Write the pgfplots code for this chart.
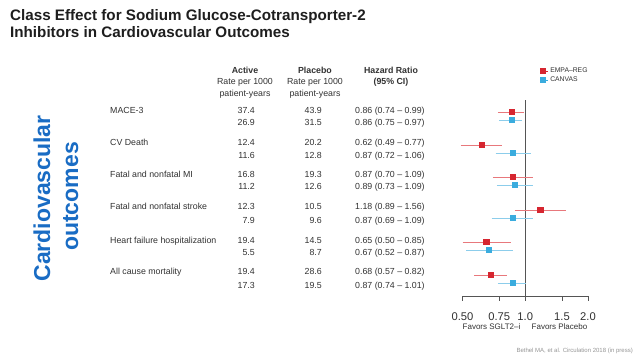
\documentclass[border=0pt]{standalone}
\usepackage{fontspec}
\setmainfont{Liberation Sans}
\usepackage{pgfplots}
\pgfplotsset{compat=1.18}
\definecolor{titlecol}{RGB}{30,30,30}
\definecolor{txt}{RGB}{50,50,50}
\definecolor{bluetxt}{RGB}{25,108,196}
\definecolor{empa}{RGB}{214,38,48}
\definecolor{empaL}{RGB}{232,120,124}
\definecolor{canv}{RGB}{58,172,222}
\definecolor{canvL}{RGB}{140,205,235}
\definecolor{axgray}{RGB}{85,85,85}
\definecolor{citegray}{RGB}{150,150,150}
\newcommand{\fs}[1]{\fontsize{#1}{#1}\selectfont}
\begin{document}
\begin{tikzpicture}[x=1pt,y=1pt]
\path[use as bounding box, fill=white] (0,0) rectangle (638,359);
% title
\node[anchor=base west, inner sep=0pt, font=\fs{15.2}\bfseries, text=titlecol] at (10,338) {Class Effect for Sodium Glucose-Cotransporter-2};
\node[anchor=base west, inner sep=0pt, font=\fs{15.2}\bfseries, text=titlecol] at (10,321) {Inhibitors in Cardiovascular Outcomes};
% side label
\node[anchor=base, rotate=90, inner sep=0pt, font=\fs{23}\bfseries, text=bluetxt] at (50,160.5) {Cardiovascular};
\node[anchor=base, rotate=90, inner sep=0pt, font=\fs{23}\bfseries, text=bluetxt] at (78,162.5) {outcomes};
% headers
\begin{scope}[every node/.style={anchor=base, inner sep=0pt, font=\fs{8.8}, text=txt}]
\node[font=\fs{8.8}\bfseries] at (245,285.7) {Active};
\node at (245,274) {Rate per 1000};
\node at (245,262.3) {patient-years};
\node[font=\fs{8.8}\bfseries] at (315,285.7) {Placebo};
\node at (315,274) {Rate per 1000};
\node at (315,262.3) {patient-years};
\node[font=\fs{8.8}\bfseries] at (391,285.7) {Hazard Ratio};
\node[font=\fs{8.8}\bfseries] at (391,274) {(95\% CI)};
\end{scope}
% row labels
\foreach \yy/\lab in {245/MACE-3, 213.3/CV Death, 181.3/Fatal and nonfatal MI, 149/Fatal and nonfatal stroke, 115.7/Heart failure hospitalization, 84/All cause mortality}
  \node[anchor=base west, inner sep=0pt, font=\fs{8.8}, text=txt] at (110,\yy) {\lab};
% table values
\foreach \yy/\a/\p/\hr in {
  245/37.4/43.9/0.86 (0.74 – 0.99),
  233/26.9/31.5/0.86 (0.75 – 0.97),
  213.3/12.4/20.2/0.62 (0.49 – 0.77),
  200.7/11.6/12.8/0.87 (0.72 – 1.06),
  181.3/16.8/19.3/0.87 (0.70 – 1.09),
  169/11.2/12.6/0.89 (0.73 – 1.09),
  149/12.3/10.5/1.18 (0.89 – 1.56),
  135.7/7.9/9.6/0.87 (0.69 – 1.09),
  115.7/19.4/14.5/0.65 (0.50 – 0.85),
  103/5.5/8.7/0.67 (0.52 – 0.87),
  84/19.4/28.6/0.68 (0.57 – 0.82),
  70.7/17.3/19.5/0.87 (0.74 – 1.01)}{
  \node[anchor=base east, inner sep=0pt, font=\fs{8.8}, text=txt] at (255,\yy) {\a};
  \node[anchor=base east, inner sep=0pt, font=\fs{8.8}, text=txt] at (322,\yy) {\p};
  \node[anchor=base west, inner sep=0pt, font=\fs{8.8}, text=txt] at (355,\yy) {\hr};
}
% forest plot
\begin{axis}[
  at={(462.5pt,63pt)}, anchor=south west, scale only axis,
  width=125.5pt, height=196pt,
  xmode=log, xmin=0.5, xmax=2, ymin=63, ymax=259,
  axis x line=bottom, axis y line=none,
  axis line style={axgray, line width=0.7pt, -},
  xtick={0.5,0.75,1,1.5,2}, xticklabels={0.50,0.75,1.0,1.5,2.0},
  minor xtick={},
  tick align=outside, major tick length=5pt,
  tick style={axgray, line width=0.7pt},
  xticklabel style={font=\fs{11.2}, text=txt, inner sep=0pt, anchor=north,
    text height=8pt, text depth=0pt, yshift=-11pt},
  clip=false, unbounded coords=jump,
  legend style={at={(axis description cs:0.615,1.175)}, anchor=north west,
    draw=none, fill=none, inner sep=0pt, row sep=-1.5pt,
    font=\fs{6.8}, text=txt},
  legend cell align=left,
  legend image code/.code={\draw[#1] plot coordinates {(2.5pt,0pt)}; \path (0pt,0pt) -- (8pt,0pt);},
]
\addplot[draw=axgray, line width=0.7pt, forget plot] coordinates {(1,63) (1,259)};
\addplot[draw=empaL, line width=0.8pt, forget plot] coordinates {
  (0.74,247) (0.99,247) (nan,nan)
  (0.49,214) (0.77,214) (nan,nan)
  (0.70,182) (1.09,182) (nan,nan)
  (0.89,149) (1.56,149) (nan,nan)
  (0.50,117) (0.85,117) (nan,nan)
  (0.57,84) (0.82,84)};
\addplot[draw=canvL, line width=0.8pt, forget plot] coordinates {
  (0.75,239) (0.97,239) (nan,nan)
  (0.72,206) (1.06,206) (nan,nan)
  (0.73,174) (1.09,174) (nan,nan)
  (0.69,141) (1.09,141) (nan,nan)
  (0.52,109) (0.87,109) (nan,nan)
  (0.74,76) (1.01,76)};
\addplot[only marks, mark=square*, mark size=2.6pt, color=empa] coordinates {
  (0.86,247) (0.62,214) (0.87,182) (1.18,149) (0.65,117) (0.68,84)};
\addlegendentry{EMPA–REG}
\addplot[only marks, mark=square*, mark size=2.6pt, color=canv] coordinates {
  (0.86,239) (0.87,206) (0.89,174) (0.87,141) (0.67,109) (0.87,76)};
\addlegendentry{CANVAS}
\end{axis}
\node[anchor=base, inner sep=0pt, font=\fs{8}, text=txt] at (491.5,29) {Favors SGLT2–i};
\node[anchor=base, inner sep=0pt, font=\fs{8}, text=txt] at (559.5,29) {Favors Placebo};
\node[anchor=base east, inner sep=0pt, font=\fs{6}, text=citegray] at (633,6) {Bethel MA, et al. Circulation 2018 (in press)};
\end{tikzpicture}
\end{document}
